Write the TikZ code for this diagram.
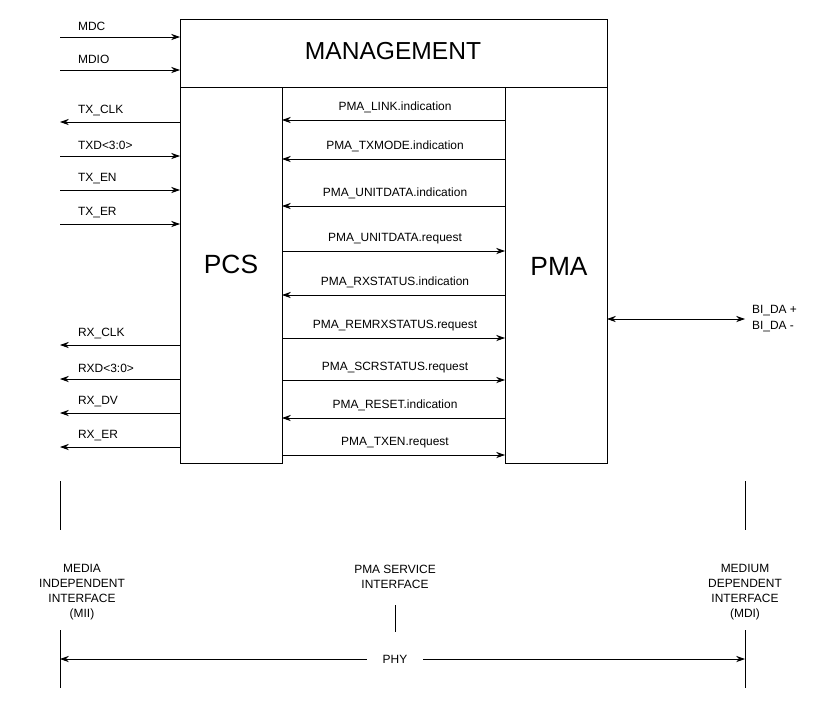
\documentclass[tikz,border=0pt]{standalone}
\usepackage{fontspec}
\setmainfont{Liberation Sans}
\usetikzlibrary{arrows.meta}

\tikzset{
  sig/.style={-{Stealth[length=5pt,width=3.5pt]}},
  both/.style={{Stealth[length=5pt,width=3.5pt]}-{Stealth[length=5pt,width=3.5pt]}},
  lbl/.style={font=\fontsize{6.8}{8.6}\selectfont, inner sep=1pt},
  blk/.style={draw, thin}
}

\begin{document}
\begin{tikzpicture}[x=0.02cm,y=-0.02cm]

\useasboundingbox (0,0) rectangle (821,701);

% blocks
\draw[blk] (180,19) rectangle (607,87);
\node[font=\fontsize{14}{16}\selectfont] (mgmt) at (393,51) {MANAGEMENT};
\draw[blk] (180,87) rectangle (282,463);
\node[font=\fontsize{15}{17}\selectfont] (pcs) at (231,264) {PCS};
\draw[blk] (505,87) rectangle (607,463);
\node[font=\fontsize{15}{17}\selectfont] (pma) at (559,266) {PMA};

% MII signals (1 = into PCS, 0 = out of PCS)
\foreach \y/\t/\d in {37/MDC/1, 70/MDIO/1, 122/TX\_CLK/0, 156/TXD<3:0>/1,
    190/TX\_EN/1, 224/TX\_ER/1, 345/RX\_CLK/0, 379/RXD<3:0>/0,
    413/RX\_DV/0, 447/RX\_ER/0}{
  \coordinate (l) at (60,\y);
  \coordinate (r) at (180,\y);
  \ifnum\d=1 \draw[sig] (l) -- (r); \else \draw[sig] (r) -- (l); \fi
  \node[lbl, anchor=south west] at (76,\y-4) {\t};
}

% PMA service primitives (1 = to PMA, 0 = to PCS)
\foreach \y/\t/\d in {120/PMA\_LINK.indication/0, 159/PMA\_TXMODE.indication/0,
    206/PMA\_UNITDATA.indication/0, 251/PMA\_UNITDATA.request/1,
    295/PMA\_RXSTATUS.indication/0, 338/PMA\_REMRXSTATUS.request/1,
    380/PMA\_SCRSTATUS.request/1, 418/PMA\_RESET.indication/0,
    455/PMA\_TXEN.request/1}{
  \coordinate (a) at (282,\y);
  \coordinate (b) at (505,\y);
  \ifnum\d=1 \draw[sig] (a) -- (b); \else \draw[sig] (b) -- (a); \fi
  \node[lbl, anchor=south] at (395,\y-5) {\t};
}

% MDI
\coordinate (mdp) at (607,319);
\coordinate (mdi) at (745,319);
\draw[both] (mdp) -- (mdi);
\node[lbl, anchor=west] (bip) at (750,311) {BI\_DA +};
\node[lbl, anchor=west] (bim) at (750,327) {BI\_DA -};

% interface labels
\node[lbl, align=center] (mii) at (82,592) {MEDIA\\INDEPENDENT\\INTERFACE\\(MII)};
\node[lbl, align=center] (psi) at (395,577) {PMA SERVICE\\INTERFACE};
\node[lbl, align=center] (mdil) at (745,592) {MEDIUM\\DEPENDENT\\INTERFACE\\(MDI)};

\draw (60,481) -- (60,530) (60,630) -- (60,688);
\draw (395,605) -- (395,632);
\draw (745,481) -- (745,530) (745,630) -- (745,688);

% PHY
\node[lbl, inner xsep=9pt] (phy) at (395,659) {PHY};
\coordinate (phyl) at (60,659);
\coordinate (phyr) at (745,659);
\draw[sig] (phy) -- (phyl);
\draw[sig] (phy) -- (phyr);

\end{tikzpicture}
\end{document}
